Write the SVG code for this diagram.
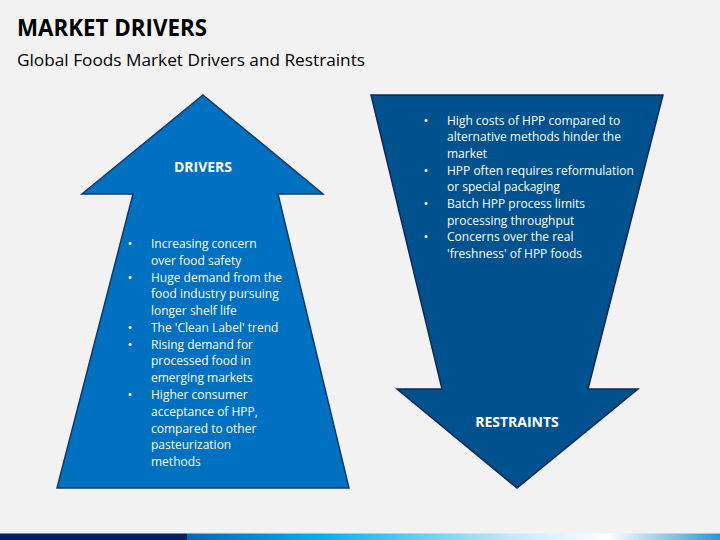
<svg xmlns="http://www.w3.org/2000/svg" width="720" height="540" viewBox="0 0 720 540">
  <defs>
    <linearGradient id="barGrad" x1="187" y1="0" x2="720" y2="0" gradientUnits="userSpaceOnUse">
      <stop offset="0" stop-color="#0068B8"/>
      <stop offset="0.25" stop-color="#00B0F0"/>
      <stop offset="0.6" stop-color="#BDE8FA"/>
      <stop offset="0.79" stop-color="#FFFFFF"/>
      <stop offset="1" stop-color="#2A95D6"/>
    </linearGradient>
    <style>
      .title { font-family: "Open Sans", "Liberation Sans", sans-serif; font-weight: bold; font-size: 22.5px; fill: #000; }
      .subtitle { font-family: "Open Sans", "Liberation Sans", sans-serif; font-size: 17px; fill: #000; }
      .label { font-family: "Open Sans", "Liberation Sans", sans-serif; font-weight: bold; font-size: 14px; fill: #fff; text-anchor: middle; }
      .body { font-family: "Open Sans", "Liberation Sans", sans-serif; font-size: 12px; fill: #fff; }
      .bul { font-size: 13px; }
      .up { fill: #0070C0; stroke: #0F3A6B; stroke-width: 1.5; stroke-linejoin: miter; }
      .down { fill: #00528F; stroke: #0E2A52; stroke-width: 1.5; stroke-linejoin: miter; }
    </style>
  </defs>
  <rect x="0" y="0" width="720" height="540" fill="#F2F2F2"/>

  <text class="title" x="17" y="36" textLength="190" lengthAdjust="spacingAndGlyphs">MARKET DRIVERS</text>
  <text class="subtitle" x="17" y="66" textLength="348" lengthAdjust="spacingAndGlyphs">Global Foods Market Drivers and Restraints</text>

  <g id="drivers">
    <polygon class="up" points="203,95 323,194 278,194 349,488 57,488 133,194 82,194"/>
    <text class="label" x="203" y="172">DRIVERS</text>
    <g class="body">
      <text class="bul" x="127.5" y="248">•</text><text x="151" y="248">Increasing concern</text>
      <text x="151" y="264.8">over food safety</text>
      <text class="bul" x="127.5" y="281.5">•</text><text x="151" y="281.5">Huge demand from the</text>
      <text x="151" y="298.3">food industry pursuing</text>
      <text x="151" y="315.1">longer shelf life</text>
      <text class="bul" x="127.5" y="331.9">•</text><text x="151" y="331.9">The 'Clean Label' trend</text>
      <text class="bul" x="127.5" y="348.6">•</text><text x="151" y="348.6">Rising demand for</text>
      <text x="151" y="365.4">processed food in</text>
      <text x="151" y="382.2">emerging markets</text>
      <text class="bul" x="127.5" y="398.9">•</text><text x="151" y="398.9">Higher consumer</text>
      <text x="151" y="415.7">acceptance of HPP,</text>
      <text x="151" y="432.5">compared to other</text>
      <text x="151" y="449.2">pasteurization</text>
      <text x="151" y="466">methods</text>
    </g>
  </g>

  <g id="restraints">
    <polygon class="down" points="371,95 663,95 588,389 638,389 517,488 397,389 442,389"/>
    <text class="label" x="517" y="427">RESTRAINTS</text>
    <g class="body">
      <text class="bul" x="423.5" y="124.5">•</text><text x="447" y="124.5">High costs of HPP compared to</text>
      <text x="447" y="141.2">alternative methods hinder the</text>
      <text x="447" y="157.9">market</text>
      <text class="bul" x="423.5" y="174.6">•</text><text x="447" y="174.6">HPP often requires reformulation</text>
      <text x="447" y="191.3">or special packaging</text>
      <text class="bul" x="423.5" y="208">•</text><text x="447" y="208">Batch HPP process limits</text>
      <text x="447" y="224.7">processing throughput</text>
      <text class="bul" x="423.5" y="241.4">•</text><text x="447" y="241.4">Concerns over the real</text>
      <text x="447" y="258.1">'freshness' of HPP foods</text>
    </g>
  </g>

  <g id="connectors"></g>

  <rect x="0" y="533.5" width="187" height="6.5" fill="#002060"/>
  <rect x="187" y="533.5" width="533" height="6.5" fill="url(#barGrad)"/>
</svg>
